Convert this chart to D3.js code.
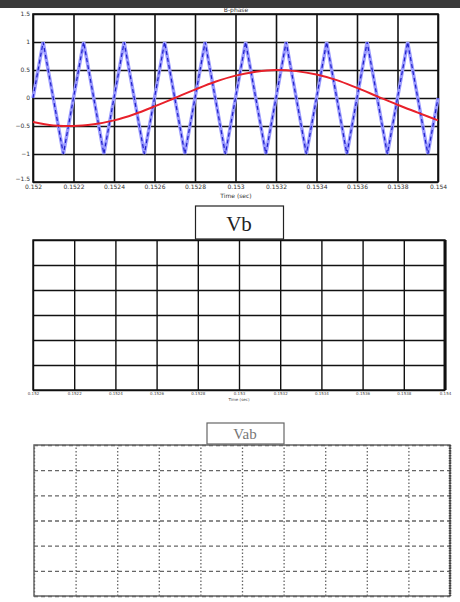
<!DOCTYPE html>
<html><head><meta charset="utf-8">
<script src="https://cdn.jsdelivr.net/npm/d3@7"></script>
<style>body{margin:0;background:#fff}svg{display:block}</style>
</head><body>
<svg id="c" width="460" height="602"></svg>
<script>
// x ticks (sec)
var timeTicks = [0.152,0.1522,0.1524,0.1526,0.1528,0.153,0.1532,0.1534,0.1536,0.1538,0.154];
var tickLabels = ["0.152","0.1522","0.1524","0.1526","0.1528","0.153","0.1532","0.1534","0.1536","0.1538","0.154"];
var yTicks = [-1.5,-1,-0.5,0,0.5,1,1.5];
// triangular carrier vertices
var carrierT = [0.152,0.15205,0.15215,0.15225,0.15235,0.15245,0.15255,0.15265,0.15275,0.15285,0.15295,0.15305,0.15315,0.15325,0.15335,0.15345,0.15355,0.15365,0.15375,0.15385,0.15395,0.154];
var carrierV = [0,1,-1,1,-1,1,-1,1,-1,1,-1,1,-1,1,-1,1,-1,1,-1,1,-1,0];
// reference (red)
var refT = [0.152,0.1521,0.1522,0.1523,0.1524,0.1525,0.1526,0.1527,0.1528,0.1529,0.153,0.1531,0.1532,0.1533,0.1534,0.1535,0.1536,0.1537,0.1538,0.1539,0.154];
var refV = [-0.43,-0.49,-0.50,-0.47,-0.40,-0.29,-0.15,0.00,0.15,0.29,0.40,0.47,0.50,0.48,0.42,0.32,0.18,0.03,-0.12,-0.26,-0.40];

var svg = d3.select("#c");
svg.append("rect").attr("width",460).attr("height",8).attr("fill","#3a3a3a");

// ---- top plot
var x1 = d3.scaleLinear().domain([0.152,0.154]).range([33,438]);
var y1 = d3.scaleLinear().domain([-1.5,1.5]).range([182,14]);
var g1 = svg.append("g");
g1.append("g").attr("transform","translate(0,182)")
  .call(d3.axisBottom(x1).tickValues(timeTicks).tickFormat((d,i)=>tickLabels[i]).tickSize(-168).tickPadding(3))
  .call(g=>g.selectAll("line").attr("stroke","#111").attr("stroke-width",1.6))
  .call(g=>g.selectAll("text").attr("font-size",6).attr("fill","#333").attr("font-family","DejaVu Sans"))
  .call(g=>g.select(".domain").remove());
g1.append("g").attr("transform","translate(33,0)")
  .call(d3.axisLeft(y1).tickValues(yTicks).tickFormat(d3.format("~g")).tickSize(-405).tickPadding(3))
  .call(g=>g.selectAll("line").attr("stroke","#111").attr("stroke-width",1.6))
  .call(g=>g.selectAll("text").attr("font-size",6).attr("fill","#333").attr("font-family","DejaVu Sans"))
  .call(g=>g.selectAll(".tick").filter(d=>d===-1.5).select("text").attr("y",-3))
  .call(g=>g.select(".domain").remove());
g1.append("rect").attr("x",33).attr("y",14).attr("width",405).attr("height",168).attr("fill","none").attr("stroke","#111").attr("stroke-width",1.6);
var carrier = carrierT.map((t,i)=>[x1(t),y1(carrierV[i])]);
g1.append("path").attr("d",d3.line()(carrier)).attr("fill","none").attr("stroke","#9a9aff").attr("stroke-width",3.5);
g1.append("path").attr("d",d3.line()(carrier)).attr("fill","none").attr("stroke","#2020c8").attr("stroke-width",1.2).attr("stroke-dasharray","4,3");
g1.append("path").attr("d",d3.line().curve(d3.curveMonotoneX)(refT.map((t,i)=>[x1(t),y1(refV[i])])))
  .attr("fill","none").attr("stroke","#e8202a").attr("stroke-width",2);
svg.append("text").attr("x",236).attr("y",12).attr("text-anchor","middle").attr("font-size",6).attr("font-family","DejaVu Sans").attr("fill","#333").text("B-phase");
svg.append("text").attr("x",236).attr("y",198).attr("text-anchor","middle").attr("font-size",6).attr("font-family","DejaVu Sans").attr("fill","#333").text("Time (sec)");

// ---- middle plot (Vb)
var x2 = d3.scaleLinear().domain([0.152,0.154]).range([33,445]);
var y2 = d3.scaleLinear().domain([0,6]).range([390,240]);
var g2 = svg.append("g");
g2.append("g").attr("transform","translate(0,390)")
  .call(d3.axisBottom(x2).tickValues(timeTicks).tickFormat((d,i)=>tickLabels[i]).tickSize(-150).tickPadding(2))
  .call(g=>g.selectAll("line").attr("stroke","#111").attr("stroke-width",1.4))
  .call(g=>g.selectAll("text").attr("font-size",4).attr("fill","#444").attr("font-family","DejaVu Sans"))
  .call(g=>g.select(".domain").remove());
g2.append("g").attr("transform","translate(33,0)")
  .call(d3.axisLeft(y2).ticks(6).tickSize(-412).tickFormat(""))
  .call(g=>g.selectAll("line").attr("stroke","#111").attr("stroke-width",1.4))
  .call(g=>g.select(".domain").remove());
g2.append("rect").attr("x",33).attr("y",240).attr("width",412).attr("height",150).attr("fill","none").attr("stroke","#111").attr("stroke-width",1.4);
g2.append("line").attr("x1",445).attr("x2",445).attr("y1",240).attr("y2",390).attr("stroke","#111").attr("stroke-width",3);
svg.append("text").attr("x",239).attr("y",401).attr("text-anchor","middle").attr("font-size",4).attr("font-family","DejaVu Sans").attr("fill","#444").text("Time (sec)");
svg.append("rect").attr("x",195.5).attr("y",206).attr("width",88).attr("height",33).attr("fill","#fff").attr("stroke","#222").attr("stroke-width",1.2);
svg.append("text").attr("x",239).attr("y",231).attr("text-anchor","middle").attr("font-size",21).attr("font-family","Liberation Serif").attr("fill","#222").text("Vb");

// ---- bottom plot (Vab)
var x3 = d3.scaleLinear().domain([0.152,0.154]).range([34,450]);
var y3 = d3.scaleLinear().domain([0,6]).range([596,445]);
var g3 = svg.append("g");
g3.append("g").attr("transform","translate(0,596)")
  .call(d3.axisBottom(x3).tickValues(timeTicks).tickSize(-151).tickFormat(""))
  .call(g=>g.selectAll("line").attr("stroke","#666").attr("stroke-width",1.3).attr("stroke-dasharray","1.5,2"))
  .call(g=>g.select(".domain").remove());
g3.append("g").attr("transform","translate(34,0)")
  .call(d3.axisLeft(y3).ticks(6).tickSize(-416).tickFormat(""))
  .call(g=>g.selectAll("line").attr("stroke","#666").attr("stroke-width",1.3).attr("stroke-dasharray","4,3"))
  .call(g=>g.select(".domain").remove());
g3.append("rect").attr("x",34).attr("y",445).attr("width",416).attr("height",151).attr("fill","none").attr("stroke","#666").attr("stroke-width",1.5);
g3.append("line").attr("x1",450).attr("x2",450).attr("y1",445).attr("y2",596).attr("stroke","#444").attr("stroke-width",2.5).attr("stroke-dasharray","1.5,1");
svg.append("rect").attr("x",207).attr("y",423).attr("width",77).attr("height",21).attr("fill","#fff").attr("stroke","#666").attr("stroke-width",1.2);
svg.append("text").attr("x",245).attr("y",439).attr("text-anchor","middle").attr("font-size",15).attr("font-family","Liberation Serif").attr("fill","#777").text("Vab");
</script>
</body></html>
